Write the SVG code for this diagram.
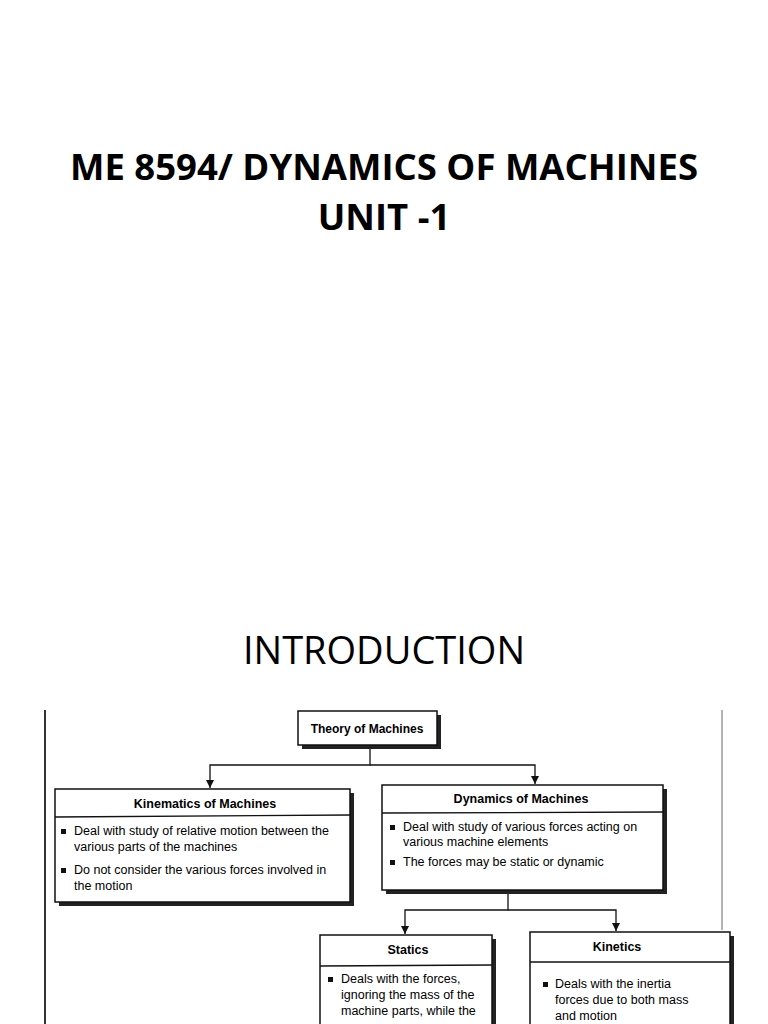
<svg xmlns="http://www.w3.org/2000/svg" width="768" height="1024" viewBox="0 0 768 1024">
<style>
.t{font-family:"Open Sans","Liberation Sans",sans-serif;fill:#000}
.title{font-size:36.5px;font-weight:bold}
.h{font-family:"Liberation Sans",Arial,sans-serif;font-size:12.5px;font-weight:bold}
.b{font-family:"Liberation Sans",Arial,sans-serif;font-size:12.5px}
.box{fill:#fff;stroke:#111;stroke-width:1.5}
.sh{fill:#222}
.ln{stroke:#111;stroke-width:1.3;fill:none}
</style>
<defs><marker id="a" markerWidth="9" markerHeight="9" refX="8" refY="4" orient="auto" markerUnits="userSpaceOnUse"><path d="M0,0 L8,4 L0,8 z" fill="#111"/></marker></defs>
<rect width="768" height="1024" fill="#fff"/>
<text class="t title" x="384" y="180" text-anchor="middle">ME 8594/ DYNAMICS OF MACHINES</text>
<text class="t title" x="384" y="230" text-anchor="middle">UNIT -1</text>
<text class="t" x="384" y="664" text-anchor="middle" font-size="38">INTRODUCTION</text>
<line x1="45" y1="710" x2="45" y2="1024" stroke="#333" stroke-width="2"/>
<line x1="722" y1="710" x2="722" y2="930" stroke="#666" stroke-width="1"/>
<g id="connectors">
<path class="ln" d="M370,749 V765 H210 V788" marker-end="url(#a)"/>
<path class="ln" d="M370,765 H535 V784" marker-end="url(#a)"/>
<path class="ln" d="M508,893 V910 H405 V934" marker-end="url(#a)"/>
<path class="ln" d="M508,910 H616 V931" marker-end="url(#a)"/>
</g>
<g id="theory">
<rect class="sh" x="302" y="715" width="139" height="34"/>
<rect class="box" x="298" y="711" width="139" height="34"/>
<text class="h" x="367" y="733" text-anchor="middle" style="font-size:12px">Theory of Machines</text>
</g>
<g id="kinematics">
<rect class="sh" x="59" y="793" width="295" height="113"/>
<rect class="box" x="55" y="789" width="295" height="113"/>
<line class="ln" x1="55" y1="817" x2="350" y2="815"/>
<text class="h" x="205" y="808" text-anchor="middle">Kinematics of Machines</text>
<rect x="61" y="829" width="5" height="5" fill="#111"/>
<text class="b" x="74" y="835">Deal with study of relative motion between the</text>
<text class="b" x="74" y="851">various parts of the machines</text>
<rect x="61" y="868" width="5" height="5" fill="#111"/>
<text class="b" x="74" y="874">Do not consider the various forces involved in</text>
<text class="b" x="74" y="890">the motion</text>
</g>
<g id="dynamics">
<rect class="sh" x="386" y="789" width="281" height="105"/>
<rect class="box" x="382" y="785" width="281" height="105"/>
<line class="ln" x1="382" y1="813" x2="663" y2="812"/>
<text class="h" x="521" y="803" text-anchor="middle">Dynamics of Machines</text>
<rect x="390" y="825" width="5" height="5" fill="#111"/>
<text class="b" x="403" y="831">Deal with study of various forces acting on</text>
<text class="b" x="403" y="846">various machine elements</text>
<rect x="390" y="860" width="5" height="5" fill="#111"/>
<text class="b" x="403" y="866">The forces may be static or dynamic</text>
</g>
<g id="statics">
<rect class="sh" x="324" y="939" width="172" height="90"/>
<rect class="box" x="320" y="935" width="172" height="95"/>
<line class="ln" x1="320" y1="966" x2="492" y2="965"/>
<text class="h" x="408" y="954" text-anchor="middle">Statics</text>
<rect x="328" y="977" width="5" height="5" fill="#111"/>
<text class="b" x="341" y="983">Deals with the forces,</text>
<text class="b" x="341" y="999">ignoring the mass of the</text>
<text class="b" x="341" y="1015">machine parts, while the</text>
</g>
<g id="kinetics">
<rect class="sh" x="534" y="936" width="200" height="95"/>
<rect class="box" x="530" y="932" width="200" height="95"/>
<line class="ln" x1="530" y1="962" x2="730" y2="962"/>
<text class="h" x="617" y="951" text-anchor="middle">Kinetics</text>
<rect x="543" y="982" width="5" height="5" fill="#111"/>
<text class="b" x="555" y="988">Deals with the inertia</text>
<text class="b" x="555" y="1004">forces due to both mass</text>
<text class="b" x="555" y="1020">and motion</text>
</g>
</svg>
